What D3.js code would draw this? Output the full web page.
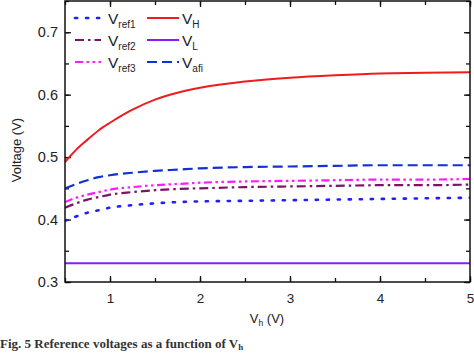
<!DOCTYPE html>
<html>
<head>
<meta charset="utf-8">
<script src="https://cdn.jsdelivr.net/npm/d3@7"></script>
<style>
  body { margin: 0; background: #fff; overflow: hidden; }
  svg { display: block; font-family: "Liberation Sans", Arial, sans-serif; }
</style>
</head>
<body>
<div id="chart"></div>
<script>
// values (V_h in volts)
var vh     = [0.5, 0.625, 0.75, 0.875, 1, 1.25, 1.5, 1.75, 2, 2.5, 3, 3.5, 4, 4.5, 5];
var vH     = [0.492, 0.512, 0.528, 0.543, 0.555, 0.576, 0.592, 0.603, 0.611, 0.621, 0.627, 0.631, 0.634, 0.635, 0.636];
var vAfi   = [0.450, 0.457, 0.463, 0.468, 0.471, 0.475, 0.478, 0.480, 0.482, 0.484, 0.485, 0.486, 0.487, 0.487, 0.487];
var vRef3  = [0.428, 0.435, 0.440, 0.444, 0.448, 0.452, 0.455, 0.457, 0.459, 0.461, 0.462, 0.463, 0.464, 0.464, 0.465];
var vRef2  = [0.419, 0.426, 0.432, 0.436, 0.440, 0.444, 0.447, 0.449, 0.450, 0.452, 0.453, 0.454, 0.455, 0.455, 0.456];
var vRef1  = [0.398, 0.405, 0.411, 0.415, 0.419, 0.423, 0.426, 0.428, 0.429, 0.430, 0.431, 0.432, 0.433, 0.434, 0.435];
var vL     = [0.33, 0.33, 0.33, 0.33, 0.33, 0.33, 0.33, 0.33, 0.33, 0.33, 0.33, 0.33, 0.33, 0.33, 0.33];

var xTicks = [1, 2, 3, 4, 5];
var yTicks = [0.3, 0.4, 0.5, 0.6, 0.7];

// series in legend order (column by column)
var series = [
  { sub: "ref1", values: vRef1, color: "#1f1fff", dash: "2.2,8.8", cap: "round", w: 2.6 },
  { sub: "ref2", values: vRef2, color: "#7a1466", dash: "9,4,2.5,4", cap: "butt", w: 2.2 },
  { sub: "ref3", values: vRef3, color: "#ff1aff", dash: "8,3.5,2.5,3.5,2.5,3.5", cap: "butt", w: 2.2 },
  { sub: "H",    values: vH,    color: "#ee1c1c", dash: null, cap: "butt", w: 2 },
  { sub: "L",    values: vL,    color: "#8c1aff", dash: null, cap: "butt", w: 2 },
  { sub: "afi",  values: vAfi,  color: "#1030d8", dash: "10,5", cap: "butt", w: 2.2 }
];

var width = 474, height = 353;
var plot = { left: 65, right: 470, top: 1, bottom: 282 };

var svg = d3.select("#chart").append("svg")
    .attr("width", width)
    .attr("height", height);

var x = d3.scaleLinear().domain([0.5, 5]).range([plot.left, plot.right]);
var y = d3.scaleLinear().domain([0.3, 0.75]).range([plot.bottom, plot.top]);

// ticks, all pointing inward, on every side
var xMinor = d3.range(0.5, 5.01, 0.5);
var yMinor = d3.range(0.3, 0.751, 0.05);

function tickAxis(axisFn, scale, vals, len, tx, ty) {
  svg.append("g")
    .attr("transform", "translate(" + tx + "," + ty + ")")
    .call(axisFn(scale).tickValues(vals).tickSize(len).tickFormat(""))
    .call(function (g) {
      g.select(".domain").remove();
      g.selectAll("line").attr("stroke", "#111").attr("stroke-width", 1.3);
    });
}
tickAxis(d3.axisTop, x, xMinor, 4, 0, plot.bottom);
tickAxis(d3.axisTop, x, xTicks, 6, 0, plot.bottom);
tickAxis(d3.axisBottom, x, xMinor, 4, 0, plot.top);
tickAxis(d3.axisBottom, x, xTicks, 6, 0, plot.top);
tickAxis(d3.axisRight, y, yMinor, 4, plot.left, 0);
tickAxis(d3.axisRight, y, yTicks, 6, plot.left, 0);
tickAxis(d3.axisLeft, y, yMinor, 4, plot.right, 0);
tickAxis(d3.axisLeft, y, yTicks, 6, plot.right, 0);

// tick labels
svg.append("g")
  .attr("transform", "translate(0," + plot.bottom + ")")
  .call(d3.axisBottom(x).tickValues(xTicks).tickSize(0).tickPadding(11).tickFormat(d3.format("d")))
  .call(function (g) {
    g.select(".domain").remove();
    g.selectAll("text").attr("font-size", 13.5).attr("fill", "#222")
      .attr("font-family", "Liberation Sans, Arial, sans-serif");
  });

svg.append("g")
  .attr("transform", "translate(" + plot.left + ",0)")
  .call(d3.axisLeft(y).tickValues(yTicks).tickSize(0).tickPadding(7).tickFormat(d3.format(".1f")))
  .call(function (g) {
    g.select(".domain").remove();
    g.selectAll("text").attr("font-size", 14.5).attr("fill", "#222")
      .attr("font-family", "Liberation Sans, Arial, sans-serif");
  });

// curves
var line = d3.line()
    .x(function (d, i) { return x(vh[i]); })
    .y(function (d) { return y(d); })
    .curve(d3.curveMonotoneX);

svg.append("defs").append("clipPath").attr("id", "clip")
  .append("rect")
  .attr("x", plot.left).attr("y", plot.top)
  .attr("width", plot.right - plot.left).attr("height", plot.bottom - plot.top);

var curves = svg.append("g").attr("clip-path", "url(#clip)");
series.forEach(function (s) {
  curves.append("path")
    .attr("d", line(s.values))
    .attr("fill", "none")
    .attr("stroke", s.color)
    .attr("stroke-width", s.w)
    .attr("stroke-linecap", s.cap)
    .attr("stroke-dasharray", s.dash);
});

// frame
svg.append("rect")
  .attr("x", plot.left).attr("y", plot.top)
  .attr("width", plot.right - plot.left).attr("height", plot.bottom - plot.top)
  .attr("fill", "none").attr("stroke", "#111").attr("stroke-width", 1.5);

// legend: two columns of three
var legendCols = [{ x0: 75, x1: 101, tx: 108 }, { x0: 147, x1: 179, tx: 182 }];
var legendRows = [18, 40, 62];
series.forEach(function (s, i) {
  var c = legendCols[Math.floor(i / 3)], yy = legendRows[i % 3];
  svg.append("line")
    .attr("x1", c.x0).attr("x2", c.x1).attr("y1", yy).attr("y2", yy)
    .attr("stroke", s.color).attr("stroke-width", s.w)
    .attr("stroke-linecap", s.cap)
    .attr("stroke-dasharray", s.dash);
  var t = svg.append("text")
    .attr("x", c.tx).attr("y", yy + 6)
    .attr("font-size", 15.5).attr("fill", "#222");
  t.append("tspan").text("V");
  t.append("tspan").attr("dy", 4).attr("font-size", 10).text(s.sub);
});

// axis titles
var xl = svg.append("text")
  .attr("x", 267).attr("y", 323)
  .attr("text-anchor", "middle")
  .attr("font-size", 13).attr("fill", "#222");
xl.append("tspan").text("V");
xl.append("tspan").attr("dy", 3).attr("font-size", 8.5).text("h");
xl.append("tspan").attr("dy", -3).text(" (V)");

svg.append("text")
  .attr("transform", "translate(21,150) rotate(-90)")
  .attr("text-anchor", "middle")
  .attr("font-size", 13).attr("fill", "#222")
  .text("Voltage (V)");

// caption along the bottom edge, kept fully inside the frame
var cap = svg.append("text")
  .attr("x", 0).attr("y", 348)
  .attr("font-family", "Liberation Serif, Times New Roman, serif")
  .attr("font-weight", "bold")
  .attr("font-size", 13).attr("fill", "#333");
cap.append("tspan").text("Fig. 5 Reference voltages as a function of V");
cap.append("tspan").attr("dy", 2).attr("font-size", 9).text("h");
</script>
</body>
</html>
